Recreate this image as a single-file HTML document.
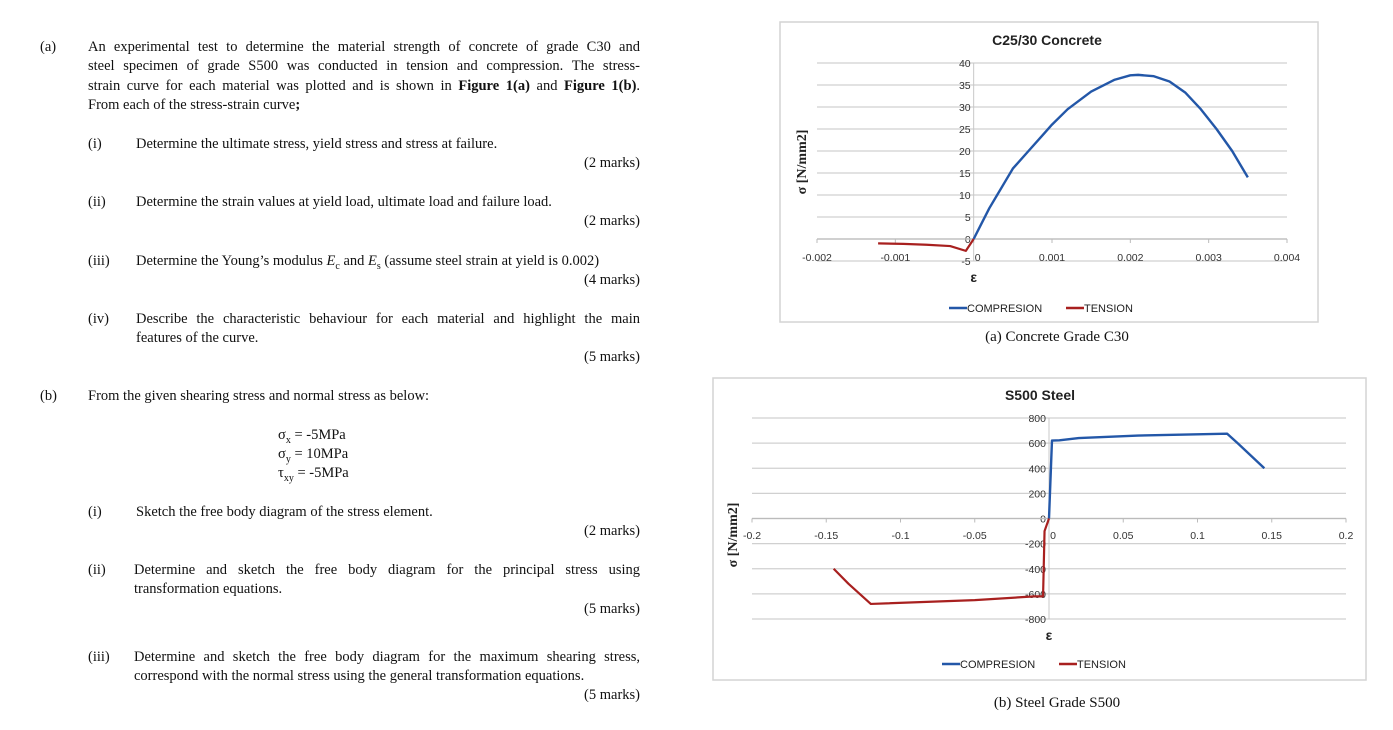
<!DOCTYPE html>
<html><head><meta charset="utf-8"><style>
html,body{margin:0;padding:0;background:#fff;width:1393px;height:730px;overflow:hidden;position:relative;font-family:"Liberation Serif",serif;color:#111}
.t{position:absolute;font-size:14.5px;line-height:17px;white-space:nowrap}
.m{position:absolute;font-size:14.5px;line-height:17px;white-space:nowrap;right:753px}
.j{text-align:justify;text-align-last:justify;white-space:normal}
svg{position:absolute;left:0;top:0}
</style></head><body>
<div>
<div class="t" style="left:40px;top:39px">(a)</div>
<div class="t j" style="left:88px;top:39px;width:552px">An experimental test to determine the material strength of concrete of grade C30 and</div>
<div class="t j" style="left:88px;top:58px;width:552px">steel specimen of grade S500 was conducted in tension and compression. The stress-</div>
<div class="t j" style="left:88px;top:78px;width:552px">strain curve for each material was plotted and is shown in <b>Figure 1(a)</b> and <b>Figure 1(b)</b>.</div>
<div class="t" style="left:88px;top:97px">From each of the stress-strain curve<b>;</b></div>
<div class="t" style="left:88px;top:136px">(i)</div>
<div class="t" style="left:136px;top:136px">Determine the ultimate stress, yield stress and stress at failure.</div>
<div class="m" style="top:155px">(2 marks)</div>
<div class="t" style="left:88px;top:194px">(ii)</div>
<div class="t" style="left:136px;top:194px">Determine the strain values at yield load, ultimate load and failure load.</div>
<div class="m" style="top:213px">(2 marks)</div>
<div class="t" style="left:88px;top:253px">(iii)</div>
<div class="t" style="left:136px;top:253px">Determine the Young’s modulus <i>E</i><sub style="font-size:10px">c</sub> and <i>E</i><sub style="font-size:10px">s</sub> (assume steel strain at yield is 0.002)</div>
<div class="m" style="top:272px">(4 marks)</div>
<div class="t" style="left:88px;top:311px">(iv)</div>
<div class="t j" style="left:136px;top:311px;width:504px">Describe the characteristic behaviour for each material and highlight the main</div>
<div class="t" style="left:136px;top:330px">features of the curve.</div>
<div class="m" style="top:349px">(5 marks)</div>
<div class="t" style="left:40px;top:388px">(b)</div>
<div class="t" style="left:88px;top:388px">From the given shearing stress and normal stress as below:</div>
<div class="t" style="left:278px;top:427px">σ<sub style="font-size:10px">x</sub> = -5MPa</div>
<div class="t" style="left:278px;top:446px">σ<sub style="font-size:10px">y</sub> = 10MPa</div>
<div class="t" style="left:278px;top:465px">τ<sub style="font-size:10px">xy</sub> = -5MPa</div>
<div class="t" style="left:88px;top:504px">(i)</div>
<div class="t" style="left:136px;top:504px">Sketch the free body diagram of the stress element.</div>
<div class="m" style="top:523px">(2 marks)</div>
<div class="t" style="left:88px;top:562px">(ii)</div>
<div class="t j" style="left:134px;top:562px;width:506px">Determine and sketch the free body diagram for the principal stress using</div>
<div class="t" style="left:134px;top:581px">transformation equations.</div>
<div class="m" style="top:601px">(5 marks)</div>
<div class="t" style="left:88px;top:649px">(iii)</div>
<div class="t j" style="left:134px;top:649px;width:506px">Determine and sketch the free body diagram for the maximum shearing stress,</div>
<div class="t" style="left:134px;top:668px">correspond with the normal stress using the general transformation equations.</div>
<div class="m" style="top:687px">(5 marks)</div>
</div>
<svg id="svg" width="1393" height="730"></svg>
<script>
// Concrete chart data
const c1Ticks = [-0.002,-0.001,0,0.001,0.002,0.003,0.004];
const c1TickLabels = ["-0.002","-0.001","0","0.001","0.002","0.003","0.004"];
const c1YTicks = [40,35,30,25,20,15,10,5,0,-5];
const c1CompX = [0,0.0001,0.0002,0.0003,0.0004,0.0005,0.0007,0.0009,0.001,0.0012,0.0015,0.0018,0.002,0.0021,0.0023,0.0025,0.0027,0.0029,0.0031,0.0033,0.0035];
const c1CompY = [0,3.5,7,10,13,16,20,24,26,29.5,33.5,36.2,37.2,37.3,37,35.8,33.3,29.5,25,20,14];
const c1TenX = [-0.00122,-0.0009,-0.0006,-0.0003,-0.0001,0];
const c1TenY = [-1,-1.1,-1.3,-1.6,-2.7,0];
// Steel chart data
const c2Ticks = [-0.2,-0.15,-0.1,-0.05,0,0.05,0.1,0.15,0.2];
const c2TickLabels = ["-0.2","-0.15","-0.1","-0.05","0","0.05","0.1","0.15","0.2"];
const c2YTicks = [800,600,400,200,0,-200,-400,-600,-800];
const c2CompX = [0,0.002,0.007,0.02,0.06,0.1,0.12,0.127,0.145];
const c2CompY = [0,620,622,640,660,670,675,600,400];
const c2TenX = [0,-0.003,-0.004,-0.01,-0.05,-0.12,-0.135,-0.145];
const c2TenY = [0,-100,-620,-620,-650,-680,-520,-400];

const NS="http://www.w3.org/2000/svg", svg=document.getElementById('svg');
function mk(tag,attrs,parent,text){const e=document.createElementNS(NS,tag);for(const k in attrs)e.setAttribute(k,attrs[k]);if(text!==undefined)e.textContent=text;(parent||svg).appendChild(e);return e;}
const SANS='"Liberation Sans",sans-serif';
function chart(o){
  const g=mk('g',{});
  
  
  const sx=v=>o.x0+(v-o.xmin)/(o.xmax-o.xmin)*(o.x1-o.x0);
  const sy=v=>o.y0+(o.ymax-v)/(o.ymax-o.ymin)*(o.y1-o.y0);
  const box=mk('rect',{x:o.bx,y:o.by,width:o.bw,height:o.bh,fill:'#fff',stroke:'#d4d4d4','stroke-width':1.5},g);
  
  o.yt.forEach(v=>{
    const l=mk('line',{x1:o.x0,x2:o.x1,y1:sy(v),y2:sy(v),stroke:'#d0d0d0','stroke-width':1.2},g);
    
    const t=mk('text',{x:sx(0)-3,y:sy(v)+4,'text-anchor':'end','font-family':SANS,'font-size':10.5,fill:'#333'},g,String(v));
    
  });
  const ya=mk('line',{x1:sx(0),x2:sx(0),y1:o.y0,y2:o.y1,stroke:'#c8c8c8','stroke-width':1},g);
  
  const xa=mk('line',{x1:o.x0,x2:o.x1,y1:sy(0),y2:sy(0),stroke:'#bbb','stroke-width':1.2},g);
  
  o.xt.forEach((v,i)=>{
    mk('line',{x1:sx(v),x2:sx(v),y1:sy(0),y2:sy(0)+4,stroke:'#bbb'},g);
    const t=mk('text',{x:sx(v)+(v===0?4:0),y:o.xly,'text-anchor':'middle','font-family':SANS,'font-size':10.5,fill:'#333'},g,o.xl[i]);
    
  });
  const pts=(xs,ys)=>xs.map((x,i)=>sx(x)+','+sy(ys[i])).join(' ');
  const pc=mk('polyline',{points:pts(o.cx,o.cy),fill:'none',stroke:'#2357a8','stroke-width':2.4,'stroke-linejoin':'round'},g);
  
  const pt=mk('polyline',{points:pts(o.tx,o.ty),fill:'none',stroke:'#a8201f','stroke-width':2.2,'stroke-linejoin':'round'},g);
  
  const ti=mk('text',{x:o.tix,y:o.tiy,'text-anchor':'middle','font-family':SANS,'font-size':14,'font-weight':'bold',fill:'#222'},g,o.title);
  
  const yt=mk('text',{transform:`translate(${o.ytx},${o.yty}) rotate(-90)`,'text-anchor':'middle','font-family':'"Liberation Serif",serif','font-size':14,'font-weight':'bold',fill:'#222'},g,'σ [N/mm2]');
  
  const xt=mk('text',{x:sx(0),y:o.xty,'text-anchor':'middle','font-family':SANS,'font-size':14,'font-weight':'bold',fill:'#222'},g,'ε');
  
  const lg=mk('g',{},g);
  mk('line',{x1:o.lgx,x2:o.lgx+18,y1:o.lgy-4,y2:o.lgy-4,stroke:'#2357a8','stroke-width':2.4},lg);
  mk('text',{x:o.lgx+18,y:o.lgy,'font-family':SANS,'font-size':11,fill:'#222'},lg,'COMPRESION');
  mk('line',{x1:o.lgx+117,x2:o.lgx+135,y1:o.lgy-4,y2:o.lgy-4,stroke:'#a8201f','stroke-width':2.4},lg);
  mk('text',{x:o.lgx+135,y:o.lgy,'font-family':SANS,'font-size':11,fill:'#222'},lg,'TENSION');
  const cap=mk('text',{x:o.capx,y:o.capy,'text-anchor':'middle','font-family':'"Liberation Serif",serif','font-size':15,fill:'#111'},g,o.caption);
  
}
chart({name:'concrete-chart',bx:780,by:22,bw:538,bh:300,x0:817,x1:1287,xmin:-0.002,xmax:0.004,y0:63,y1:261,ymin:-5,ymax:40,
  xt:c1Ticks,xl:c1TickLabels,yt:c1YTicks,xly:261,cx:c1CompX,cy:c1CompY,tx:c1TenX,ty:c1TenY,title:'C25/30 Concrete',tix:1047,tiy:45,
  ytx:806,yty:162,xty:282,lgx:949,lgy:312,caption:'(a) Concrete Grade C30',capx:1057,capy:341});
chart({name:'steel-chart',bx:713,by:378,bw:653,bh:302,x0:752,x1:1346,xmin:-0.2,xmax:0.2,y0:418,y1:619,ymin:-800,ymax:800,
  xt:c2Ticks,xl:c2TickLabels,yt:c2YTicks,xly:539,cx:c2CompX,cy:c2CompY,tx:c2TenX,ty:c2TenY,title:'S500 Steel',tix:1040,tiy:400,
  ytx:737,yty:535,xty:640,lgx:942,lgy:668,caption:'(b) Steel Grade S500',capx:1057,capy:707});
</script>
</body></html>
